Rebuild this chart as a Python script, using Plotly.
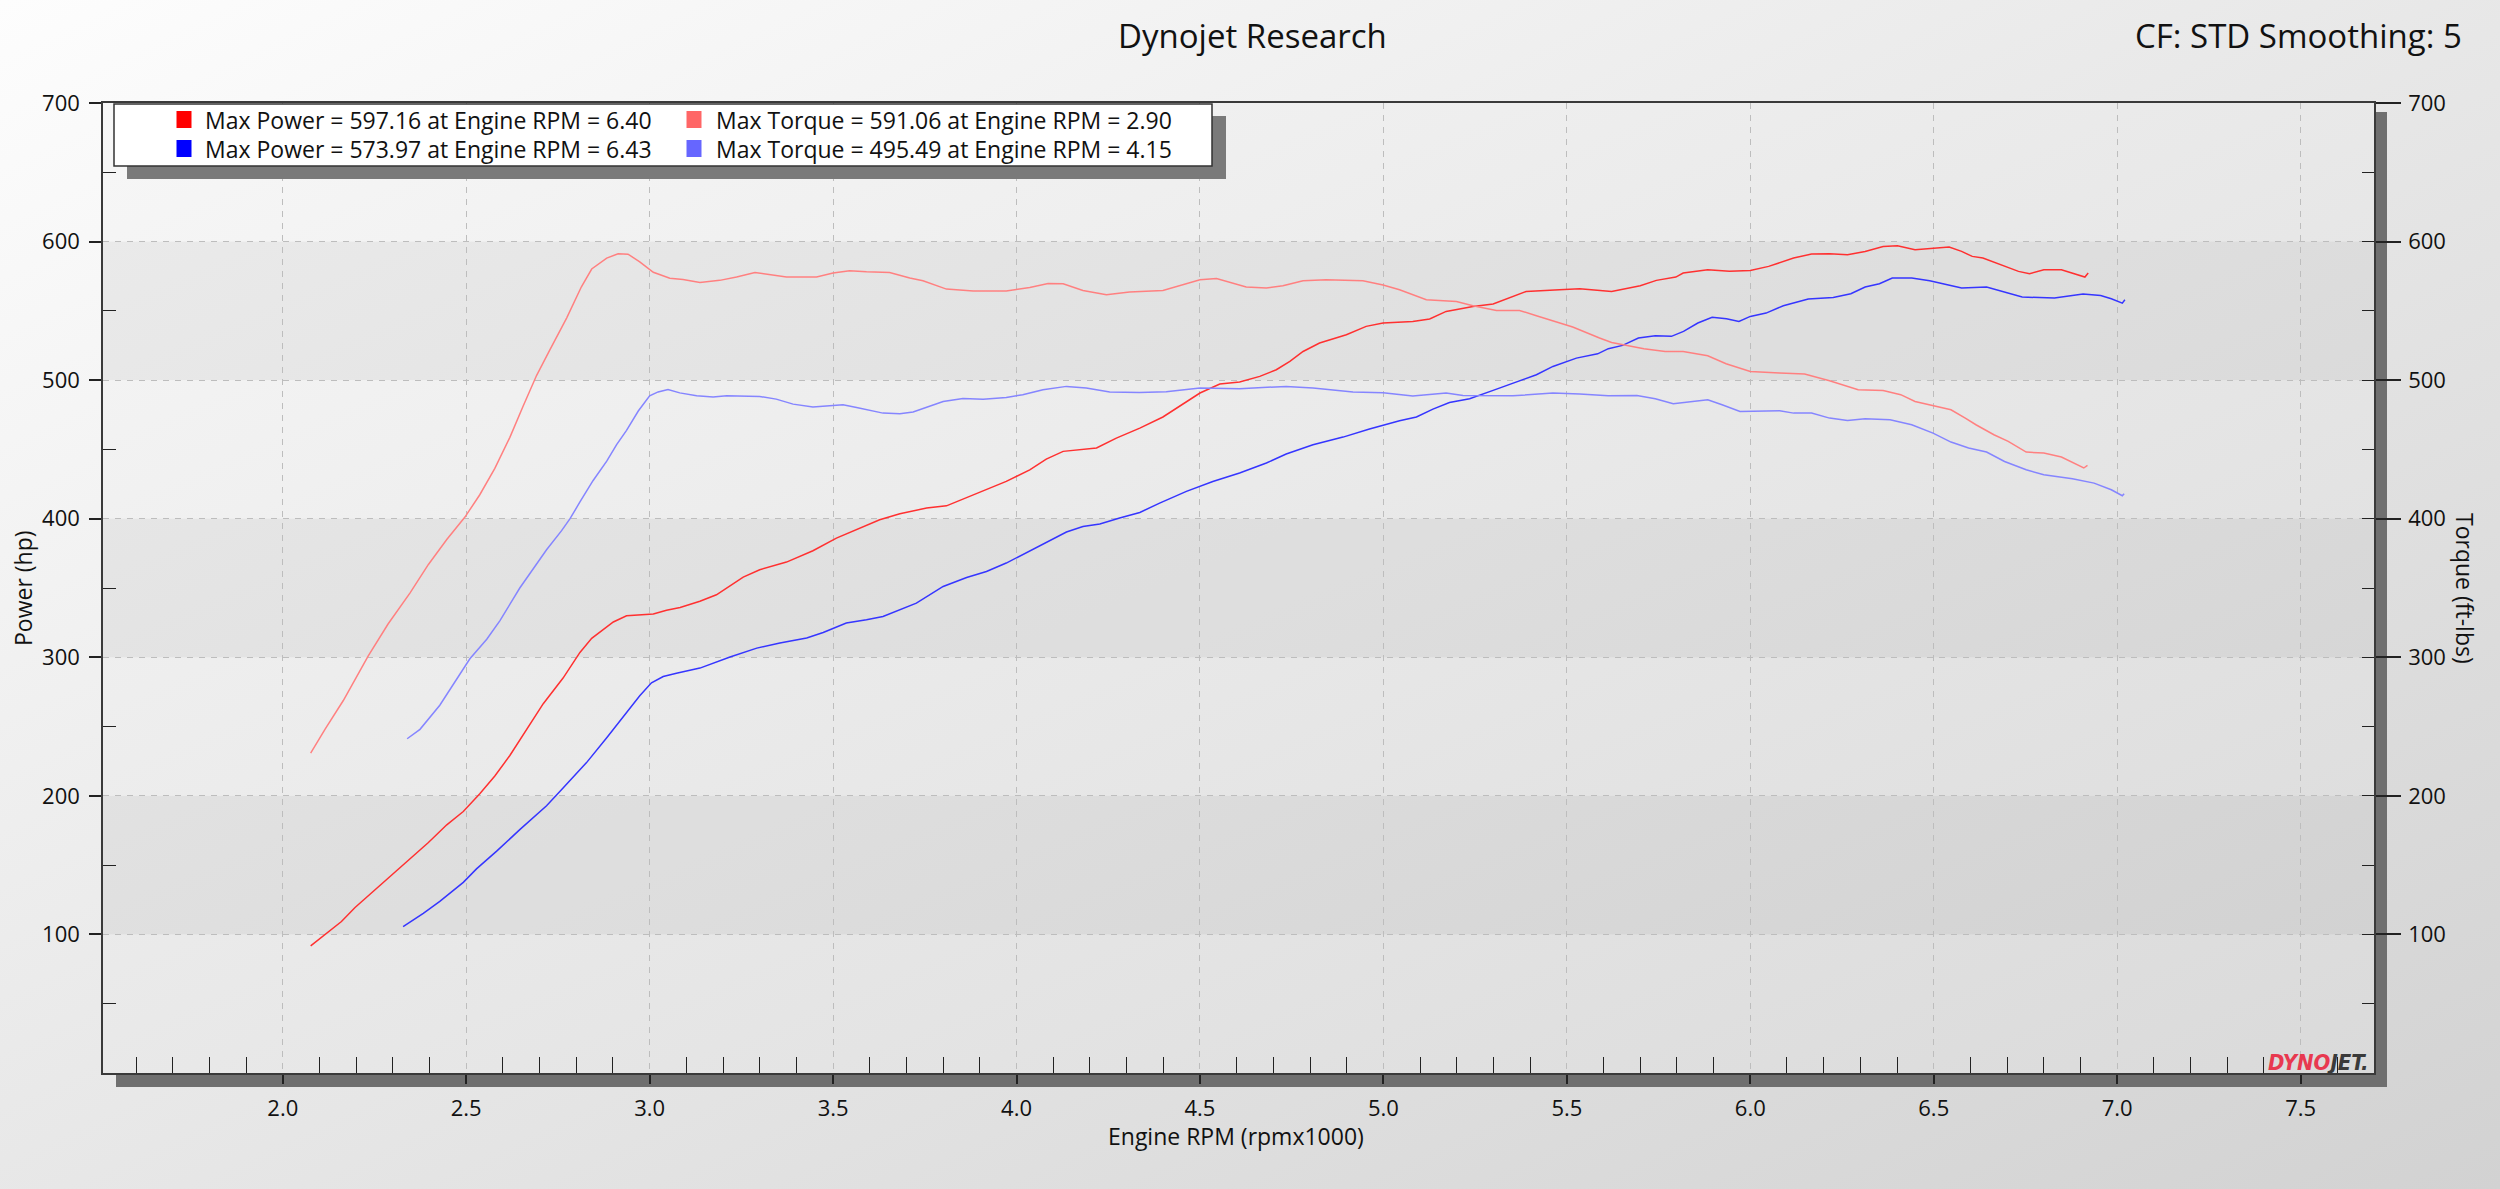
import base64
import plotly.graph_objects as go

# ---------------- data ----------------
rp_rpm = [2.076, 2.129, 2.160, 2.197, 2.238, 2.287, 2.347, 2.397, 2.447, 2.492, 2.537, 2.578, 2.619, 2.665,
          2.710, 2.764, 2.810, 2.842, 2.901, 2.937, 3.010, 3.046, 3.083, 3.137, 3.182, 3.255, 3.300, 3.373,
          3.445, 3.509, 3.564, 3.627, 3.682, 3.755, 3.809, 3.882, 3.972, 4.036, 4.081, 4.127, 4.172, 4.218,
          4.272, 4.336, 4.399, 4.445, 4.500, 4.554, 4.608, 4.663, 4.708, 4.745, 4.781, 4.826, 4.899, 4.953,
          4.999, 5.080, 5.126, 5.171, 5.244, 5.299, 5.344, 5.389, 5.480, 5.535, 5.622, 5.700, 5.744, 5.797,
          5.817, 5.884, 5.943, 6.000, 6.050, 6.118, 6.167, 6.216, 6.265, 6.313, 6.362, 6.401, 6.449, 6.498,
          6.542, 6.576, 6.605, 6.634, 6.683, 6.731, 6.761, 6.800, 6.848, 6.887, 6.912, 6.921]
rp_hp = [91.7, 103.1, 109.3, 119.4, 129.0, 140.4, 155.0, 166.3, 179.1, 188.7, 201.5, 214.3, 229.1, 248.1,
         266.5, 285.0, 303.5, 313.7, 325.5, 330.0, 331.3, 334.0, 336.0, 340.4, 345.1, 357.9, 363.2, 368.7,
         376.9, 386.0, 392.0, 399.2, 403.6, 407.7, 409.3, 417.3, 426.9, 435.3, 443.0, 448.6, 449.8, 451.0,
         458.2, 465.4, 473.4, 481.0, 490.7, 497.2, 498.6, 502.7, 507.5, 513.5, 520.7, 526.8, 532.8, 538.8,
         541.2, 542.4, 544.1, 549.6, 553.2, 554.9, 559.7, 564.0, 565.2, 566.0, 564.0, 568.1, 572.0, 574.4,
         577.3, 579.7, 578.5, 579.2, 582.1, 588.1, 591.0, 591.2, 590.5, 592.9, 596.5, 597.0, 594.1, 595.3,
         596.0, 592.9, 589.3, 588.1, 583.3, 578.5, 576.8, 579.7, 579.7, 576.8, 574.4, 577.3]

rt_rpm = [2.076, 2.115, 2.165, 2.233, 2.287, 2.347, 2.397, 2.447, 2.496, 2.537, 2.578, 2.619, 2.655, 2.692,
          2.728, 2.774, 2.814, 2.842, 2.883, 2.914, 2.941, 2.973, 3.010, 3.055, 3.091, 3.137, 3.191, 3.237,
          3.287, 3.373, 3.455, 3.500, 3.545, 3.591, 3.654, 3.709, 3.745, 3.809, 3.882, 3.972, 4.036, 4.086,
          4.127, 4.181, 4.245, 4.308, 4.399, 4.444, 4.500, 4.545, 4.581, 4.626, 4.681, 4.726, 4.781, 4.844,
          4.944, 4.999, 5.044, 5.117, 5.199, 5.244, 5.308, 5.371, 5.417, 5.462, 5.516, 5.589, 5.622, 5.710,
          5.768, 5.817, 5.884, 5.934, 6.000, 6.080, 6.148, 6.216, 6.294, 6.362, 6.410, 6.449, 6.498, 6.547,
          6.586, 6.615, 6.664, 6.703, 6.752, 6.800, 6.848, 6.887, 6.909, 6.919]
rt_lbft = [230.9, 248.0, 268.8, 301.0, 324.0, 346.5, 367.0, 385.0, 401.0, 417.3, 436.3, 458.7, 481.2, 503.5,
           521.9, 545.0, 567.4, 580.2, 588.1, 591.2, 590.9, 585.4, 577.8, 573.6, 572.6, 570.5, 572.0, 574.4,
           577.7, 574.4, 574.4, 577.3, 579.0, 578.2, 577.7, 573.7, 571.7, 565.7, 564.3, 564.3, 566.9, 569.8,
           569.6, 564.7, 561.6, 563.6, 564.7, 568.3, 572.5, 573.4, 570.5, 567.2, 566.5, 568.1, 571.7, 572.5,
           571.7, 568.6, 565.2, 558.0, 556.8, 553.7, 550.3, 550.3, 546.5, 542.9, 538.3, 530.4, 527.2, 522.7,
           520.7, 520.7, 517.6, 511.8, 506.3, 505.1, 504.4, 499.6, 493.1, 492.6, 489.5, 484.6, 481.7, 478.6,
           472.6, 467.8, 460.6, 455.8, 448.1, 447.4, 444.5, 439.4, 436.6, 438.5]

bp_rpm = [2.328, 2.383, 2.428, 2.492, 2.528, 2.583, 2.646, 2.719, 2.764, 2.828, 2.883, 2.928, 2.973, 3.005,
          3.037, 3.073, 3.137, 3.219, 3.292, 3.355, 3.428, 3.473, 3.536, 3.591, 3.636, 3.727, 3.800, 3.864,
          3.918, 3.972, 4.036, 4.100, 4.136, 4.181, 4.227, 4.281, 4.336, 4.390, 4.463, 4.535, 4.608, 4.681,
          4.735, 4.808, 4.890, 4.962, 5.044, 5.090, 5.135, 5.180, 5.235, 5.299, 5.353, 5.417, 5.462, 5.526,
          5.584, 5.613, 5.652, 5.695, 5.741, 5.785, 5.818, 5.857, 5.896, 5.935, 5.969, 6.000, 6.043, 6.090,
          6.158, 6.226, 6.274, 6.313, 6.352, 6.387, 6.440, 6.489, 6.537, 6.576, 6.644, 6.693, 6.741, 6.829,
          6.907, 6.955, 6.984, 7.014, 7.021]
bp_hp = [105.6, 115.2, 123.8, 137.6, 147.3, 160.1, 175.6, 192.9, 205.7, 224.0, 241.9, 256.8, 272.3, 281.6,
         286.1, 288.5, 292.2, 300.2, 306.6, 310.3, 313.9, 317.9, 324.7, 327.1, 329.5, 339.1, 351.1, 357.6,
         361.9, 368.0, 376.9, 385.3, 390.4, 394.4, 396.2, 400.5, 404.5, 411.3, 419.7, 426.9, 433.0, 440.2,
         446.7, 453.4, 458.9, 464.7, 470.7, 473.4, 479.1, 483.9, 486.6, 492.6, 497.9, 503.9, 509.9, 515.9,
         519.0, 522.7, 525.1, 530.4, 532.1, 531.6, 535.2, 541.2, 545.3, 544.3, 542.4, 546.0, 548.4, 553.7,
         558.5, 559.7, 562.4, 567.2, 569.6, 573.7, 573.7, 571.7, 568.9, 566.5, 567.2, 563.3, 560.0, 559.2,
         562.1, 561.1, 558.7, 555.6, 558.0]

bt_rpm = [2.339, 2.374, 2.428, 2.474, 2.510, 2.556, 2.592, 2.646, 2.683, 2.719, 2.760, 2.783, 2.810, 2.846,
          2.883, 2.910, 2.937, 2.969, 3.000, 3.023, 3.050, 3.082, 3.128, 3.173, 3.210, 3.300, 3.345, 3.391,
          3.445, 3.500, 3.527, 3.564, 3.636, 3.682, 3.718, 3.800, 3.854, 3.909, 3.972, 4.017, 4.072, 4.136,
          4.190, 4.254, 4.335, 4.408, 4.500, 4.608, 4.735, 4.808, 4.917, 4.999, 5.080, 5.171, 5.217, 5.353,
          5.462, 5.535, 5.613, 5.691, 5.741, 5.790, 5.829, 5.884, 5.923, 5.972, 6.080, 6.118, 6.167, 6.216,
          6.265, 6.313, 6.381, 6.440, 6.498, 6.547, 6.595, 6.644, 6.693, 6.752, 6.800, 6.878, 6.937, 6.984,
          7.014, 7.019]
bt_lbft = [241.2, 248.0, 265.4, 283.7, 298.9, 313.0, 326.5, 350.0, 363.7, 377.6, 391.4, 400.0, 412.1, 427.6,
           441.5, 453.5, 463.8, 477.7, 488.7, 491.5, 493.2, 490.8, 488.7, 487.8, 488.7, 488.2, 486.3, 482.7,
           480.6, 481.5, 482.2, 480.3, 476.2, 475.7, 477.0, 484.6, 486.8, 486.3, 487.5, 489.5, 493.1, 495.5,
           494.3, 491.4, 491.1, 491.6, 494.3, 493.8, 495.5, 494.3, 491.4, 490.9, 488.5, 490.7, 489.0, 488.7,
           490.7, 490.0, 488.7, 489.0, 486.6, 483.0, 484.0, 485.9, 482.2, 477.4, 477.9, 476.2, 476.2, 472.6,
           470.9, 472.1, 471.4, 467.8, 461.8, 455.3, 451.0, 448.1, 441.3, 435.3, 431.7, 428.9, 425.7, 420.9,
           416.6, 418.0]

legend_labels = ["Max Power = 597.16 at Engine RPM = 6.40",
                 "Max Torque = 591.06 at Engine RPM = 2.90",
                 "Max Power = 573.97 at Engine RPM = 6.43",
                 "Max Torque = 495.49 at Engine RPM = 4.15"]
legend_swatches = ["#ff0000", "#ff6666", "#0000ff", "#6666ff"]

x_major_ticks = [2.0, 2.5, 3.0, 3.5, 4.0, 4.5, 5.0, 5.5, 6.0, 6.5, 7.0, 7.5]
x_tick_text = ["2.0", "2.5", "3.0", "3.5", "4.0", "4.5", "5.0", "5.5", "6.0", "6.5", "7.0", "7.5"]
y_major_ticks = [100, 200, 300, 400, 500, 600, 700]

title_text = "Dynojet Research"
info_text = "CF: STD Smoothing: 5"

# ---------------- geometry ----------------
W, H = 2500, 1189
L, R, T, B = 103, 2374, 103, 1073
PW, PH = R - L, B - T
FONT = "Open Sans"


def PX(x):
    return (x - L) / PW


def PY(y):
    return (B - y) / PH


def svg_uri(svg):
    return "data:image/svg+xml;base64," + base64.b64encode(svg.encode()).decode()


page_svg = (
    f'<svg xmlns="http://www.w3.org/2000/svg" width="{W}" height="{H}" viewBox="0 0 {W} {H}" '
    'preserveAspectRatio="none"><defs><linearGradient id="g" x1="0" y1="0" x2="1" y2="1">'
    '<stop offset="0" stop-color="#fdfdfd"/><stop offset="1" stop-color="#d2d2d2"/></linearGradient></defs>'
    f'<rect width="{W}" height="{H}" fill="url(#g)"/></svg>'
)

band_h = PH / 7.0
bands = ""
for k in (1, 3, 5):  # 100-200, 300-400, 500-600
    y0 = PH - (k + 1) * band_h
    bands += f'<rect x="0" y="{y0:.2f}" width="{PW}" height="{band_h:.2f}" fill="#000" fill-opacity="0.045"/>'
plot_svg = (
    f'<svg xmlns="http://www.w3.org/2000/svg" width="{PW}" height="{PH}" viewBox="0 0 {PW} {PH}" '
    'preserveAspectRatio="none"><defs><linearGradient id="p" x1="0" y1="0" x2="1" y2="1">'
    '<stop offset="0" stop-color="#f7f7f7"/><stop offset="1" stop-color="#dadada"/></linearGradient></defs>'
    f'<rect width="{PW}" height="{PH}" fill="url(#p)"/>{bands}</svg>'
)

fig = go.Figure()

line_w = 1.5
fig.add_trace(go.Scatter(x=rp_rpm, y=rp_hp, mode="lines", line=dict(color="#ff3030", width=line_w),
                         name="Power run 1", yaxis="y"))
fig.add_trace(go.Scatter(x=bp_rpm, y=bp_hp, mode="lines", line=dict(color="#3535ff", width=line_w),
                         name="Power run 2", yaxis="y"))
fig.add_trace(go.Scatter(x=rt_rpm, y=rt_lbft, mode="lines", line=dict(color="#ff8080", width=line_w),
                         name="Torque run 1", yaxis="y2"))
fig.add_trace(go.Scatter(x=bt_rpm, y=bt_lbft, mode="lines", line=dict(color="#8585ff", width=line_w),
                         name="Torque run 2", yaxis="y2"))

x_minor = [round(1.6 + 0.1 * i, 1) for i in range(61)]
x_minor = [v for v in x_minor if v < 7.7 and abs(v * 2 - round(v * 2)) > 1e-6]
y_minor_left = [50 + 100 * i for i in range(7)]
y_minor_right = [50 * i for i in range(1, 14)]

tickfont = dict(family=FONT, size=22, color="#111")
axis_line = "#3a3a3a"
grid_col = "#bdbdbd"

fig.update_layout(
    width=W, height=H, autosize=False,
    margin=dict(l=L, r=W - R, t=T, b=H - B, pad=0),
    paper_bgcolor="rgba(0,0,0,0)", plot_bgcolor="rgba(0,0,0,0)",
    showlegend=False,
    font=dict(family=FONT, color="#111"),
    xaxis=dict(range=[1.51, 7.70], tickmode="array", tickvals=x_major_ticks, ticktext=x_tick_text,
               ticks="outside", ticklen=9, tickwidth=1.5, tickcolor="#222", tickfont=tickfont,
               showgrid=True, gridcolor=grid_col, griddash="6px,6px", gridwidth=1,
               showline=True, linecolor=axis_line, linewidth=1.5, mirror=True, zeroline=False,
               automargin=False, ticklabelstandoff=6,
               minor=dict(tickmode="array", tickvals=x_minor, ticks="inside", ticklen=16, tickwidth=1.2,
                          tickcolor="#222", showgrid=False)),
    yaxis=dict(range=[0, 700], tickmode="array", tickvals=y_major_ticks,
               ticks="outside", ticklen=12, tickwidth=1.5, tickcolor="#222", tickfont=tickfont,
               showgrid=True, gridcolor=grid_col, griddash="6px,6px", gridwidth=1,
               showline=True, linecolor=axis_line, linewidth=1.5, zeroline=False,
               automargin=False, ticklabelstandoff=5,
               minor=dict(tickmode="array", tickvals=y_minor_left, ticks="inside", ticklen=13, tickwidth=1.2,
                          tickcolor="#222", showgrid=False)),
    yaxis2=dict(range=[0, 700], overlaying="y", side="right", tickmode="array", tickvals=y_major_ticks,
                ticks="outside", ticklen=25, tickwidth=1.5, tickcolor="#222", tickfont=tickfont,
                showgrid=False, showline=True, linecolor=axis_line, linewidth=1.5, zeroline=False,
                automargin=False, ticklabelstandoff=3,
                minor=dict(tickmode="array", tickvals=y_minor_right, ticks="inside", ticklen=12, tickwidth=1.2,
                           tickcolor="#222", showgrid=False)),
)

# backgrounds
fig.add_layout_image(dict(source=svg_uri(page_svg), xref="paper", yref="paper", x=PX(0), y=PY(0),
                          sizex=W / PW, sizey=H / PH, xanchor="left", yanchor="top",
                          sizing="stretch", layer="below"))
fig.add_layout_image(dict(source=svg_uri(plot_svg), xref="paper", yref="paper", x=0, y=1,
                          sizex=1, sizey=1, xanchor="left", yanchor="top",
                          sizing="stretch", layer="below"))

# frame shadows
shadow = "#6f6f6f"
fig.add_shape(type="rect", xref="paper", yref="paper", x0=PX(R), x1=PX(R + 13), y0=PY(B + 14), y1=PY(112),
              fillcolor=shadow, line=dict(width=0), layer="below")
fig.add_shape(type="rect", xref="paper", yref="paper", x0=PX(116), x1=PX(R + 13), y0=PY(B + 14), y1=PY(B),
              fillcolor=shadow, line=dict(width=0), layer="below")

# legend box (custom)
fig.add_shape(type="rect", xref="paper", yref="paper", x0=PX(127), x1=PX(1226), y0=PY(179), y1=PY(116),
              fillcolor="#7a7a7a", line=dict(width=0), layer="above")
fig.add_shape(type="rect", xref="paper", yref="paper", x0=PX(114), x1=PX(1212), y0=PY(166), y1=PY(104),
              fillcolor="#ffffff", line=dict(color="#333333", width=1.5), layer="above")

col_sw = [184, 694]
col_tx = [203, 714]
row_y = [119.5, 148.5]
for i, (lab, colr) in enumerate(zip(legend_labels, legend_swatches)):
    r, c = divmod(i, 2)
    cx, cy = col_sw[c], row_y[r]
    fig.add_shape(type="rect", xref="paper", yref="paper", x0=PX(cx - 7.5), x1=PX(cx + 7.5),
                  y0=PY(cy + 8.5), y1=PY(cy - 8.5), fillcolor=colr, line=dict(width=0), layer="above")
    fig.add_annotation(text=lab, xref="paper", yref="paper", x=PX(col_tx[c]), y=PY(cy),
                       xanchor="left", yanchor="middle", showarrow=False,
                       font=dict(family=FONT, size=23, color="#111"))

# titles
fig.add_annotation(text=title_text, xref="paper", yref="paper", x=PX(1252), y=PY(35),
                   xanchor="center", yanchor="middle", showarrow=False,
                   font=dict(family=FONT, size=33, color="#111"))
fig.add_annotation(text=info_text, xref="paper", yref="paper", x=PX(2464), y=PY(35),
                   xanchor="right", yanchor="middle", showarrow=False,
                   font=dict(family=FONT, size=33, color="#111"))
fig.add_annotation(text="Power (hp)", xref="paper", yref="paper", x=PX(23), y=PY(588),
                   xanchor="center", yanchor="middle", showarrow=False, textangle=-90,
                   font=dict(family=FONT, size=23, color="#111"))
fig.add_annotation(text="Torque (ft-lbs)", xref="paper", yref="paper", x=PX(2465), y=PY(588),
                   xanchor="center", yanchor="middle", showarrow=False, textangle=90,
                   font=dict(family=FONT, size=23, color="#111"))
fig.add_annotation(text="Engine RPM (rpmx1000)", xref="paper", yref="paper", x=PX(1236), y=PY(1136),
                   xanchor="center", yanchor="middle", showarrow=False,
                   font=dict(family=FONT, size=23, color="#111"))
fig.add_annotation(text="<b><i><span style='color:#e8384f'>DYNO</span><span style='color:#3a3a3a'>JET.</span></i></b>",
                   xref="paper", yref="paper", x=PX(2371), y=PY(1062),
                   xanchor="right", yanchor="middle", showarrow=False,
                   font=dict(family="DejaVu Sans Condensed, DejaVu Sans", size=22, color="#3a3a3a"))

fig.write_html("out.html")
